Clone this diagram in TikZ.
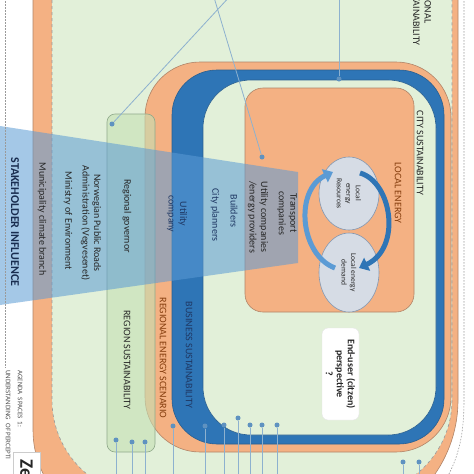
\documentclass[tikz,border=0pt]{standalone}
\usepackage{fontspec}
\setmainfont{Carlito}
\usetikzlibrary{arrows.meta,shapes.geometric}
\definecolor{bggreen}{HTML}{E2F0D9}
\definecolor{orng}{HTML}{F4B183}
\definecolor{orngedge}{HTML}{B08468}
\definecolor{bandblue}{HTML}{2E75B6}
\definecolor{bandedge}{HTML}{2A5F90}
\definecolor{regbox}{HTML}{C5E0B4}
\definecolor{regedge}{HTML}{8FA98A}
\definecolor{overlayblue}{HTML}{5B9BD5}
\definecolor{ellfill}{HTML}{D6DCE5}
\definecolor{elledge}{HTML}{8497B0}
\definecolor{pinline}{HTML}{8DB1CF}
\definecolor{pindotc}{HTML}{5F92C0}
\definecolor{txt}{HTML}{262626}
\definecolor{navy}{HTML}{1F3864}
\definecolor{brownred}{HTML}{843C0C}
\definecolor{dotgrey}{HTML}{9A9A9A}
\definecolor{arrowdark}{HTML}{2E75B6}
\definecolor{arrowlight}{HTML}{5B9BD5}
\begin{document}
\begin{tikzpicture}[x=1pt,y=-1pt,
  lbl/.style={rotate=-90, font=\fontsize{10}{11.5}\selectfont, text=txt, align=center, inner sep=0pt},
  pinl/.style={draw=pinline, line width=0.8pt},
  pind/.style={circle, fill=pindotc, draw=none, inner sep=0pt, minimum size=5pt},
  edge/.style={line width=0.6pt},
  swoosh/.style={line width=5pt, -{Triangle[length=9pt,width=14pt]}},
]
\useasboundingbox (0,0) rectangle (474,474);
\clip (0,0) rectangle (474,474);
\fill[white] (0,0) rectangle (474,474);
% outer orange band
\path[fill=orng, draw=orngedge, edge] (33,-60) -- (33,430) .. controls (33,485) and (78,530) .. (133,530) -- (328,530) .. controls (400,530) and (458,472) .. (458,400) -- (458,-60) -- cycle;
% inner green (regional sustainability)
\path[fill=bggreen, draw=dotgrey, edge, dashed] (52,-60) -- (52,400) .. controls (52,453) and (95,496) .. (148,496) -- (355,496) .. controls (408,496) and (452,453) .. (452,400) -- (452,-60) -- cycle;
% regional energy scenario band
\path[fill=orng, draw=orngedge, edge, rounded corners=55pt] (145,62) rectangle (451,452);
% business band
\path[fill=bandblue, draw=bandedge, edge, rounded corners=45pt] (172,70) rectangle (444,444);
% city area
\path[fill=bggreen, draw=bandedge, edge, rounded corners=48pt] (203,80) rectangle (436,435);
% local energy box
\path[fill=orng, draw=orngedge, edge, rounded corners=18pt] (245,88) rectangle (414,312);
% ellipses
\node[ellipse, rotate=-90, minimum width=73pt, minimum height=60pt, inner sep=0pt, fill=ellfill, draw=elledge, edge,
      font=\fontsize{7.5}{9.5}\selectfont, text=txt, align=center] (res) at (349,193.5) {Local\\energy\\Resources};
\node[ellipse, rotate=-90, minimum width=79pt, minimum height=60pt, inner sep=0pt, fill=ellfill, draw=elledge, edge,
      font=\fontsize{7.5}{9.5}\selectfont, text=txt, align=center] (dem) at (349,272.5) {Local energy\\demand};
% cycle arrows
\coordinate (a1s) at (360,173);
\coordinate (a1e) at (359,268);
\coordinate (a2s) at (335,268);
\coordinate (a2e) at (333,172);
\draw[swoosh, arrowdark] (a1s) .. controls (392,182) and (402,248) .. (a1e);
\draw[swoosh, arrowlight] (a2s) .. controls (300,255) and (294,190) .. (a2e);
% region sustainability box
\path[fill=regbox, fill opacity=0.6, draw=regedge, edge, rounded corners=8pt] (107,114) rectangle (155,452);
% stakeholder influence overlay
\fill[overlayblue, opacity=0.55] (0,126) -- (298,172) -- (298,263) -- (0,305) -- cycle;
% end-user box
\node[rotate=-90, rounded corners=6pt, fill=white, draw=black!10, minimum width=92pt, minimum height=37pt, inner sep=0pt,
      font=\bfseries\fontsize{10}{11}\selectfont, text=txt, align=center] (enduser) at (340.5,374) {End-user (citzen)\\perspective\\?};
% labels
\node[lbl, font=\bfseries\fontsize{12}{14}\selectfont, text=navy!80!black] (stake) at (15,222) {STAKEHOLDER INFLUENCE};
\node[lbl] (muni) at (42,219) {Municipality climate branch};
\node[lbl] (mini) at (68,221) {Ministry of Environment};
\node[lbl] (npra) at (91,223) {Norwegian Public Roads\\Administration (Vegvesenet)};
\node[lbl] (regov) at (127,216) {Regional governor};
\node[lbl, text=navy] (utilco) at (177,214) {Utility\\company};
\node[lbl, text=navy] (cityp) at (215,215) {City planners};
\node[lbl, text=navy] (build) at (234,211) {Builders};
\node[lbl] (utilcos) at (258,217) {Utility companies\\/energy providers};
\node[lbl] (transp) at (287,213) {Transport\\companies};
\node[lbl] (regsus) at (127,360) {REGION SUSTAINABILITY};
\node[lbl, text=brownred] (regen) at (163,358) {REGIONAL ENERGY SCENARIO};
\node[lbl, text=navy] (bussus) at (189,355) {BUSINESS SUSTAINABILITY};
\node[lbl] (citysus) at (420,153) {CITY SUSTAINABILITY};
\node[lbl, text=brownred] (locen) at (398,193) {LOCAL ENERGY};
\node[lbl, align=left, anchor=west] (regionalsus) at (422,-19) {REGIONAL\\SUSTAINABILITY};
% pins at the top
\node[pind] (p1) at (112,124) {};
\node[pind] (p2) at (262,157) {};
\node[pind] (p3) at (339,79) {};
\coordinate (t1) at (232,-6);
\coordinate (t2) at (213,-6);
\coordinate (t3) at (339,-6);
\draw[pinl] (p1) -- (t1);
\draw[pinl] (p2) -- (t2);
\draw[pinl] (p3) -- (t3);
% pins at the bottom
\foreach \i/\x/\y in {1/116/440, 2/132/442, 3/145/442, 4/173/426, 5/205/426, 6/224/425, 7/238/418, 8/250/425, 9/262/425, 10/277/425, 11/403/462, 12/419/462}{
  \node[pind] (b\i) at (\x,\y) {};
  \coordinate (e\i) at (\x,480);
  \draw[pinl] (b\i) -- (e\i);
}
% dotted frame lines
\draw[dotgrey, line width=0.6pt, dash pattern=on 1.5pt off 1.5pt] (5,-5) -- (5,368);
\draw[dotgrey, line width=0.6pt, dash pattern=on 1.5pt off 1.5pt] (464,-5) -- (464,400) .. controls (464,445) and (455,465) .. (440,490);
% title fragments
\node[rotate=-90, anchor=west, inner sep=0pt, font=\fontsize{7}{8}\selectfont, text=txt!80] (agenda) at (20,370) {AGENDA\ \ SPACES\ \ 1:};
\node[rotate=-90, anchor=west, inner sep=0pt, font=\fontsize{7}{8}\selectfont, text=txt!80] (underst) at (8,370) {UNDERSTANDING\ \ OF PERCEPTI};
\path[fill=white, draw=black!20, line width=0.5pt] (13,452) rectangle (40,482);
\node[rotate=-90, anchor=west, inner sep=0pt, font=\bfseries\fontsize{19}{20}\selectfont, text=txt] (ze) at (26.5,459) {Ze};
\end{tikzpicture}
\end{document}
